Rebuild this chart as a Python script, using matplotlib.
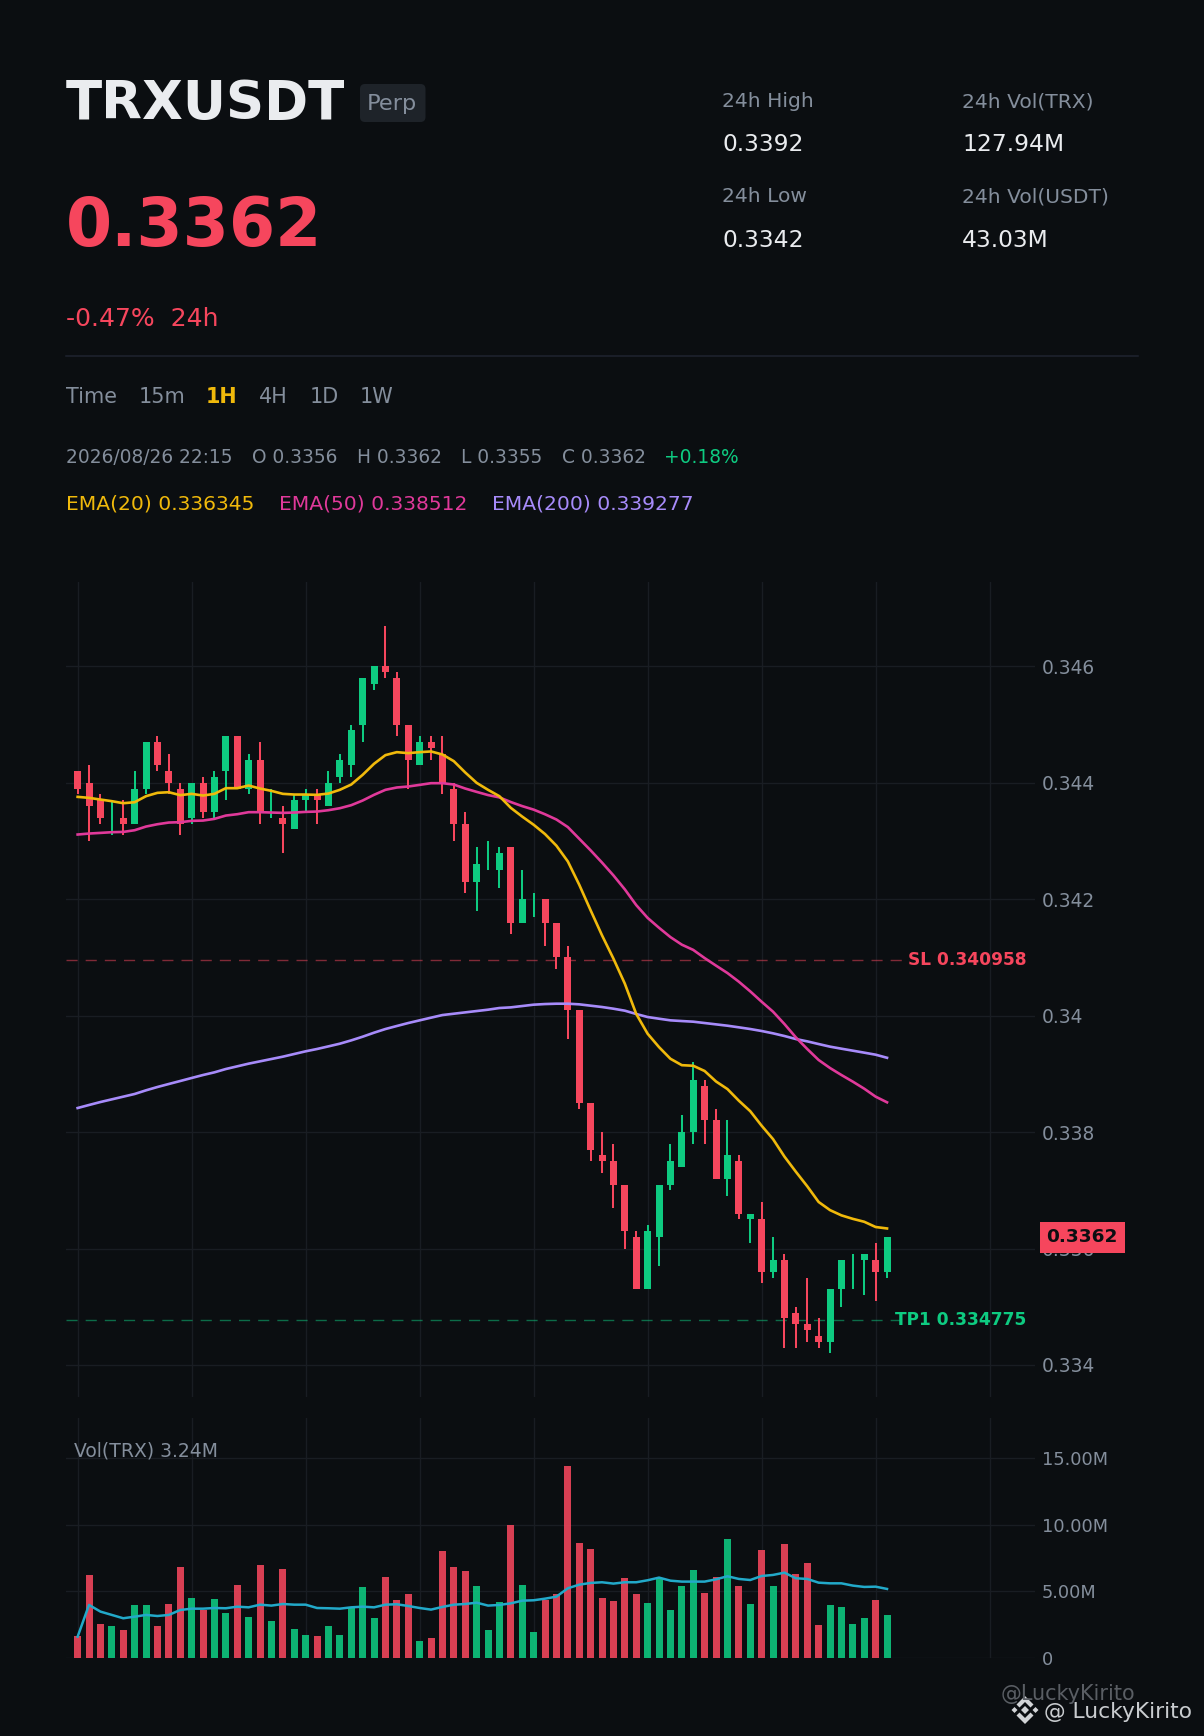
import numpy as np
import matplotlib
matplotlib.use('Agg')
import matplotlib.pyplot as plt
from matplotlib.patches import FancyBboxPatch, Rectangle, Polygon
from matplotlib.ticker import FixedLocator, FixedFormatter

W, H = 1204, 1736
BG = '#0B0E11'
RED = '#F6465D'
GREEN = '#0ECB81'
GRAY = '#848E9C'
GRID = '#191D23'

############ candles ############
open_ = [.3442,.3440,.3437,.3436,.3434,.3433,.3439,.3447,.3442,.3439,.3434,.3440,.3435,.3442,.3448,.3439,.3444,.3436,
         .3434,.3432,.3437,.3438,.3436,.3441,.3443,.3450,.3457,.3460,.3458,.3450,.3443,.3447,.3445,.3439,.3433,.3423,
         .3427,.3425,.3429,.3416,.3419,.3420,.3416,.3410,.3401,.3385,.3376,.3375,.3371,.3362,.3353,.3362,.3371,.3374,
         .3380,.3388,.3382,.3372,.3375,.3365,.3365,.3356,.3358,.3349,.3347,.3345,.3344,.3353,.3356,.3358,.3358,.3356]
high = [.3442,.3443,.3438,.3437,.3437,.3442,.3447,.3448,.3445,.3440,.3440,.3441,.3442,.3448,.3448,.3445,.3447,.3439,
        .3436,.3438,.3439,.3439,.3442,.3445,.3450,.3458,.3460,.3467,.3459,.3450,.3448,.3448,.3448,.3440,.3435,.3429,
        .3430,.3429,.3429,.3425,.3421,.3420,.3416,.3412,.3401,.3385,.3380,.3378,.3371,.3363,.3364,.3371,.3378,.3383,
        .3392,.3389,.3384,.3382,.3376,.3366,.3368,.3362,.3359,.3350,.3355,.3348,.3353,.3358,.3359,.3359,.3361,.3362]
low = [.3438,.3430,.3433,.3431,.3431,.3433,.3438,.3442,.3438,.3431,.3433,.3434,.3434,.3437,.3439,.3438,.3433,.3434,
       .3428,.3432,.3435,.3433,.3436,.3440,.3441,.3447,.3456,.3458,.3448,.3439,.3443,.3444,.3438,.3430,.3421,.3418,
       .3425,.3422,.3414,.3416,.3417,.3412,.3408,.3396,.3384,.3375,.3373,.3367,.3360,.3353,.3353,.3357,.3370,.3374,
       .3378,.3378,.3372,.3369,.3365,.3361,.3354,.3355,.3343,.3343,.3344,.3343,.3342,.3350,.3353,.3352,.3351,.3355]
close = [.3439,.3436,.3434,.3436,.3433,.3439,.3447,.3443,.3440,.3433,.3440,.3435,.3441,.3448,.3439,.3444,.3435,.3436,
         .3433,.3437,.3438,.3437,.3440,.3444,.3449,.3458,.3460,.3459,.3450,.3444,.3447,.3446,.3440,.3433,.3423,.3426,
         .3427,.3428,.3416,.3420,.3419,.3416,.3410,.3401,.3385,.3377,.3375,.3371,.3363,.3353,.3363,.3371,.3375,.3380,
         .3389,.3382,.3372,.3376,.3366,.3366,.3356,.3358,.3348,.3347,.3346,.3344,.3353,.3358,.3356,.3359,.3356,.3362]

########### EMA lines ###########
ema20 = [.343759,.343742,.343713,.343685,.34365,.343667,.343771,.343828,.343839,.343788,.343811,.343782,.343811,.343908,
         .343908,.343954,.343902,.343862,.343811,.343799,.343799,.343794,.343816,.34388,.343971,.344137,.344327,.344476,
         .344527,.34451,.344527,.344539,.344487,.344372,.344178,.34400,.34388,.34377,.34357,.34342,.34328,.34312,.34292,
         .34265,.34225,.34181,.34138,.34098,.34055,.34003,.33969,.33946,.33926,.33915,.33914,.33905,.33887,.33874,.33854,
         .33836,.33811,.33788,.33758,.33732,.33707,.3368,.33666,.33657,.33651,.33646,.33637,.336345]
ema50 = [.343112,.343129,.34314,.343152,.343157,.343186,.343249,.343289,.343318,.343324,.343347,.343352,.343381,.343438,
         .343461,.343496,.343496,.34349,.343484,.34349,.343501,.343507,.34353,.343564,.343616,.343696,.343794,.34388,
         .34392,.343937,.343965,.343994,.343994,.343971,.343902,.343845,.34379,.34375,.34367,.3436,.34354,.34346,.34337,
         .34324,.34304,.34284,.34263,.34241,.34217,.3419,.34168,.34151,.34135,.34122,.34113,.34099,.34086,.340733,.340584,
         .340418,.34024,.340069,.339857,.339628,.339428,.339239,.339101,.338981,.338867,.338746,.338609,.338512]
ema200 = [.338414,.338466,.338517,.338563,.338609,.338655,.338718,.338775,.338827,.338878,.33893,.338981,.339027,.339084,
          .33913,.339176,.339216,.339256,.339296,.339342,.339388,.339428,.339473,.339519,.339576,.339639,.339708,.339771,
          .339823,.339874,.33992,.339966,.340011,.340034,.340057,.34008,.340103,.340132,.340143,.340166,.340189,.3402,
          .340206,.340206,.340195,.340172,.340149,.34012,.340086,.340029,.339977,.339948,.33992,.339908,.339897,.339874,
          .339851,.339828,.3398,.339771,.339737,.339697,.339651,.339599,.339559,.339513,.339468,.339433,.339399,.339365,
          .33933,.339277]

########### volume ###########
vol = [1.65,6.2,2.55,2.4,2.1,3.98,3.98,2.4,4.05,6.83,4.5,3.6,4.43,3.38,5.48,3.08,6.98,2.78,6.68,2.18,1.73,1.65,2.4,1.73,
       3.75,5.33,3.0,6.08,4.35,4.8,1.28,1.5,8.03,6.83,6.53,5.4,2.1,4.2,9.95,5.48,1.95,4.35,4.8,14.4,8.63,8.18,4.5,4.28,
       6.0,4.8,4.13,6.0,3.6,5.4,6.6,4.88,6.08,8.93,5.4,4.05,8.1,5.4,8.55,6.3,7.13,2.48,3.98,3.83,2.55,3.0,4.35,3.23]
vol_ma = [1.6,3.98,3.48,3.23,2.98,3.1,3.23,3.15,3.23,3.6,3.7,3.7,3.75,3.73,3.85,3.8,4.0,3.93,4.05,4.0,4.0,3.75,3.73,3.7,
          3.8,3.85,3.8,4.0,4.03,3.9,3.75,3.63,3.83,4.0,4.05,4.15,3.93,3.98,4.1,4.3,4.33,4.45,4.6,5.23,5.5,5.63,5.68,5.58,
          5.68,5.68,5.83,6.03,5.8,5.73,5.73,5.73,5.9,6.13,5.93,5.85,6.15,6.23,6.4,5.98,5.93,5.65,5.6,5.6,5.43,5.33,5.35,5.18]

price_ticks = [0.334, 0.336, 0.338, 0.34, 0.342, 0.344, 0.346]
price_labels = ['0.334', '0.336', '0.338', '0.34', '0.342', '0.344', '0.346']
vol_ticks = [0, 5, 10, 15]
vol_labels = ['0', '5.00M', '10.00M', '15.00M']
x_ticks = [0, 10, 20, 30, 40, 50, 60, 70, 80]
sl_price = 0.340958
tp_price = 0.334775

def px_axes(fig, l, t, r, b, **kw):
    return fig.add_axes([l/W, 1-b/H, (r-l)/W, (b-t)/H], **kw)

def fs(px):
    return px*0.72

fig = plt.figure(figsize=(W/100, H/100), dpi=100, facecolor=BG)

x = np.arange(len(close))
o = np.array(open_)
c = np.array(close)
colors = [GREEN if c[i] >= o[i] else RED for i in x]

########### price panel ##########
ax = px_axes(fig, 66, 582, 1035, 1396.7, facecolor=BG)
ax.set_xlim(-1.02, 83.98)
ax.set_ylim(0.333455, 0.34745)
ax.vlines(x, low, high, colors=colors, lw=1.45, zorder=3)
ax.bar(x, np.abs(c-o), bottom=np.minimum(o, c), width=0.61, color=colors, zorder=3)
ax.plot(x, ema200, color='#A78BFA', lw=1.9, zorder=4)
ax.plot(x, ema50, color='#E0399A', lw=1.9, zorder=4)
ax.plot(x, ema20, color='#F0B90B', lw=1.9, zorder=4)
ax.plot([-1.02, 72.3], [sl_price, sl_price], color=RED, alpha=0.5, lw=1, dashes=(8, 5.8), zorder=2)
ax.plot([-1.02, 72.3], [tp_price, tp_price], color=GREEN, alpha=0.5, lw=1, dashes=(8, 5.8), zorder=2)
tr = ax.get_yaxis_transform()
ax.text(0.991, sl_price, 'SL 0.340958', color=RED, fontsize=fs(17), fontweight='bold', ha='right', va='center', transform=tr, zorder=5)
ax.text(0.991, tp_price, 'TP1 0.334775', color=GREEN, fontsize=fs(17), fontweight='bold', ha='right', va='center', transform=tr, zorder=5)

########### volume panel ##########
axv = px_axes(fig, 66, 1418, 1035, 1658, facecolor=BG)
axv.set_xlim(-1.02, 83.98)
axv.set_ylim(0, 18)
axv.bar(x, vol, width=0.61, color=colors, alpha=0.88, zorder=3)
axv.plot(x, vol_ma, color='#22A9C9', lw=1.8, zorder=4)

for a, ticks, labels, size in [(ax, price_ticks, price_labels, 18.7), (axv, vol_ticks, vol_labels, 17.7)]:
    a.yaxis.tick_right()
    a.yaxis.set_major_locator(FixedLocator(ticks))
    a.yaxis.set_major_formatter(FixedFormatter(labels))
    a.xaxis.set_major_locator(FixedLocator(x_ticks))
    a.xaxis.set_major_formatter(FixedFormatter([]))
    a.tick_params(axis='y', length=0, pad=5, labelsize=fs(size), labelcolor=GRAY)
    a.tick_params(axis='x', length=0)
    a.grid(True, color=GRID, lw=1)
    a.set_axisbelow(True)
    for s in a.spines.values():
        s.set_visible(False)

########### header, in pixels ##########
top = px_axes(fig, 0, 0, W, H, zorder=10)
top.set_xlim(0, W)
top.set_ylim(H, 0)
top.axis('off')

def label(xp, yp, s, color=GRAY, px=20, weight='normal'):
    top.text(xp, yp, s, color=color, fontsize=fs(px), fontweight=weight, ha='left', va='baseline')

label(66, 119.5, 'TRXUSDT', '#EAECEF', 53, 'bold')
top.add_patch(FancyBboxPatch((360, 84), 65.5, 38, boxstyle='round,pad=0,rounding_size=5', fc='#1E2329', ec='none'))
label(367, 110, 'Perp', GRAY, 22.5)
label(66, 246, '0.3362', RED, 66.5, 'bold')
label(66, 325.5, '-0.47%  24h', RED, 25)

label(722, 107, '24h High', GRAY, 20.3)
label(722, 151, '0.3392', '#EAECEF', 23.4)
label(722, 202.5, '24h Low', GRAY, 20.3)
label(722, 246.7, '0.3342', '#EAECEF', 23.4)
label(962, 107, '24h Vol(TRX)', GRAY, 20.3)
label(962, 151, '127.94M', '#EAECEF', 23.4)
label(962, 202.5, '24h Vol(USDT)', GRAY, 20.3)
label(962, 246.7, '43.03M', '#EAECEF', 23.4)

top.plot([66, 1138], [356, 356], color='#1F2430', lw=1.1)

label(66, 403, 'Time', GRAY, 20.8)
label(138.5, 403, '15m', GRAY, 20.8)
label(206, 403, '1H', '#F0B90B', 20.8, 'bold')
label(259, 403, '4H', GRAY, 20.8)
label(310, 403, '1D', GRAY, 20.8)
label(360, 403, '1W', GRAY, 20.8)

label(66, 463, '2026/08/26 22:15', GRAY, 18.7)
label(252.5, 463, 'O 0.3356', GRAY, 18.7)
label(357, 463, 'H 0.3362', GRAY, 18.7)
label(461, 463, 'L 0.3355', GRAY, 18.7)
label(562, 463, 'C 0.3362', GRAY, 18.7)
label(664.5, 463, '+0.18%', GREEN, 18.7)

label(66, 509.5, 'EMA(20) 0.336345', '#F0B90B', 20.3)
label(279, 509.5, 'EMA(50) 0.338512', '#E0399A', 20.3)
label(492.5, 509.5, 'EMA(200) 0.339277', '#A78BFA', 20.3)

label(74, 1456.7, 'Vol(TRX) 3.24M', GRAY, 18.8)

# last price tag sits over the 0.336 tick label
top.add_patch(Rectangle((1040, 1222), 85, 30.5, fc=RED, ec='none'))
top.text(1082, 1236.5, '0.3362', color=BG, fontsize=fs(18.5), fontweight='bold', ha='center', va='center')

########### watermark ##########
label(1000.5, 1700, '@LuckyKirito', '#5A5E64', 20.8)
label(1044.5, 1718, '@ LuckyKirito', '#C9CCCF', 21.8)
cx, cy = 1025, 1710
logo = '#D2D4D7'
for pts in ([(0, -4), (4, 0), (0, 4), (-4, 0)],
            [(-10.5, -3), (-7.5, 0), (-10.5, 3), (-13.5, 0)],
            [(10.5, -3), (13.5, 0), (10.5, 3), (7.5, 0)],
            [(0, -14), (8.5, -5.5), (5.5, -2.5), (0, -8), (-5.5, -2.5), (-8.5, -5.5)],
            [(0, 14), (8.5, 5.5), (5.5, 2.5), (0, 8), (-5.5, 2.5), (-8.5, 5.5)]):
    top.add_patch(Polygon([(cx+p[0], cy+p[1]) for p in pts], fc=logo, ec='none'))

fig.savefig('out.png', dpi=100, facecolor=BG)
